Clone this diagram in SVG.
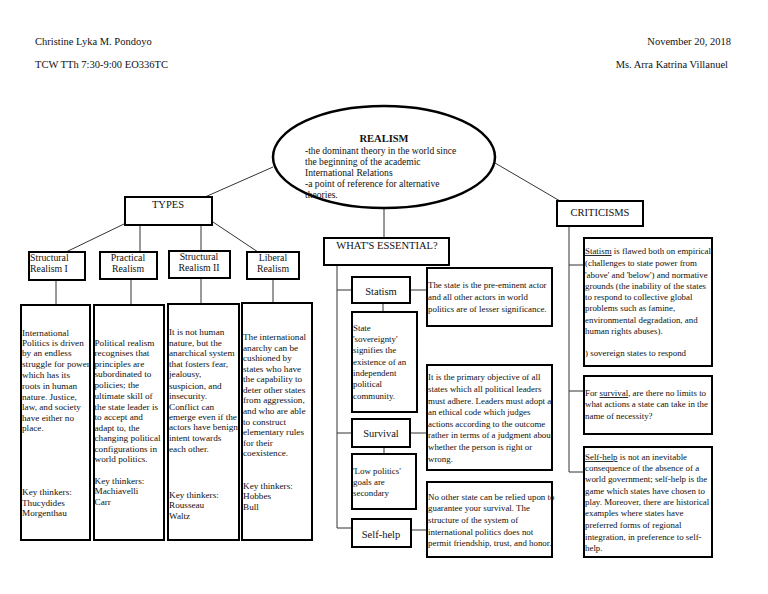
<svg xmlns="http://www.w3.org/2000/svg" width="768" height="594" viewBox="0 0 768 594">
<style>
text{font-family:"Liberation Serif","Times New Roman",serif;fill:#111}
.h{font-size:10.5px}
.t{font-size:9.2px}
.d{font-size:8.9px}
.l{font-size:10.5px}
.c{text-anchor:middle}
.box{fill:#fff;stroke:#000;stroke-width:2}
.conn line{stroke:#333;stroke-width:1}
.u{text-decoration:underline}
</style>
<rect width="768" height="594" fill="#fff"/>
<g id="header">
<text class="h" x="35" y="45">Christine Lyka M. Pondoyo</text>
<text class="h" x="35" y="68">TCW TTh 7:30-9:00 EO336TC</text>
<text class="h" x="731" y="45" text-anchor="end">November 20, 2018</text>
<text class="h" x="728" y="68" text-anchor="end">Ms. Arra Katrina Villanuel</text>
</g>
<g class="conn" id="connectors">
<line x1="273" y1="167" x2="205" y2="197"/>
<line x1="384" y1="208" x2="384" y2="238"/>
<line x1="495" y1="163" x2="560" y2="201"/>
<line x1="124" y1="224" x2="66" y2="252"/>
<line x1="140" y1="225" x2="140" y2="252"/>
<line x1="201" y1="225" x2="201" y2="251"/>
<line x1="213" y1="222" x2="258" y2="252"/>
<line x1="56" y1="280" x2="56" y2="305"/>
<line x1="131" y1="279" x2="131" y2="305"/>
<line x1="201" y1="278" x2="201" y2="304"/>
<line x1="273" y1="279" x2="273" y2="303"/>
<line x1="337" y1="265" x2="337" y2="528"/>
<line x1="337" y1="290" x2="352" y2="290"/>
<line x1="410" y1="290" x2="427" y2="290"/>
<line x1="383" y1="303" x2="383" y2="312"/>
<line x1="337" y1="433" x2="352" y2="433"/>
<line x1="410" y1="433" x2="427" y2="433"/>
<line x1="384" y1="447" x2="384" y2="454"/>
<line x1="337" y1="528" x2="352" y2="528"/>
<line x1="411" y1="530" x2="427" y2="530"/>
<line x1="569" y1="226" x2="569" y2="472"/>
<line x1="569" y1="265" x2="584" y2="265"/>
<line x1="569" y1="391" x2="584" y2="391"/>
<line x1="569" y1="472" x2="584" y2="472"/>
</g>
<g id="realism">
<ellipse cx="384" cy="157" rx="111" ry="51" fill="#fff" stroke="#000" stroke-width="2.5"/>
<text x="384" y="142" class="c" font-size="10.5" font-weight="bold">REALISM</text>
<text font-size="9.6" x="305" y="154">-the dominant theory in the world since</text>
<text font-size="9.6" x="305" y="165">the beginning of the academic</text>
<text font-size="9.6" x="305" y="176">International Relations</text>
<text font-size="9.6" x="305" y="187">-a point of reference for alternative</text>
<text font-size="9.6" x="305" y="198">theories.</text>
</g>
<g id="types">
<rect class="box" x="125" y="197" width="87" height="28"/>
<text class="l c" x="168" y="208">TYPES</text>
</g>
<g id="sr1">
<rect class="box" x="29" y="252" width="56" height="28"/>
<text font-size="9.8" x="30" y="261">Structural</text>
<text font-size="9.8" x="30" y="272">Realism I</text>
</g>
<g id="pr">
<rect class="box" x="100" y="252" width="57" height="27"/>
<text class="c" font-size="9.8" x="128" y="261">Practical</text>
<text class="c" font-size="9.8" x="128" y="272">Realism</text>
</g>
<g id="sr2">
<rect class="box" x="169" y="251" width="61" height="27"/>
<text class="c" font-size="9.8" x="199" y="260">Structural</text>
<text class="c" font-size="9.8" x="199" y="271">Realism II</text>
</g>
<g id="lr">
<rect class="box" x="247" y="252" width="52" height="27"/>
<text class="c" font-size="9.8" x="273" y="261">Liberal</text>
<text class="c" font-size="9.8" x="273" y="272">Realism</text>
</g>
<g id="desc-sr1">
<rect class="box" x="21" y="305" width="69" height="235"/>
<text class="t" x="22" y="336">International</text>
<text class="t" x="22" y="346">Politics is driven</text>
<text class="t" x="22" y="356">by an endless</text>
<text class="t" x="22" y="367">struggle for power</text>
<text class="t" x="22" y="378">which has its</text>
<text class="t" x="22" y="389">roots in human</text>
<text class="t" x="22" y="400">nature. Justice,</text>
<text class="t" x="22" y="410">law, and society</text>
<text class="t" x="22" y="421">have either no</text>
<text class="t" x="22" y="431">place.</text>
<text class="t" x="22" y="495">Key thinkers:</text>
<text class="t" x="22" y="506">Thucydides</text>
<text class="t" x="22" y="516">Morgenthau</text>
</g>
<g id="desc-pr">
<rect class="box" x="94" y="305" width="70" height="235"/>
<text class="t" x="94.5" y="346">Political realism</text>
<text class="t" x="94.5" y="356">recognises that</text>
<text class="t" x="94.5" y="367">principles are</text>
<text class="t" x="94.5" y="377">subordinated to</text>
<text class="t" x="94.5" y="388">policies; the</text>
<text class="t" x="94.5" y="399">ultimate skill of</text>
<text class="t" x="94.5" y="410">the state leader is</text>
<text class="t" x="94.5" y="420">to accept and</text>
<text class="t" x="94.5" y="431">adapt to, the</text>
<text class="t" x="94.5" y="441">changing political</text>
<text class="t" x="94.5" y="452">configurations in</text>
<text class="t" x="94.5" y="462">world politics.</text>
<text class="t" x="94.5" y="484">Key thinkers:</text>
<text class="t" x="94.5" y="494">Machiavelli</text>
<text class="t" x="94.5" y="505">Carr</text>
</g>
<g id="desc-sr2">
<rect class="box" x="168" y="304" width="71" height="236"/>
<text class="t" x="169" y="335">It is not human</text>
<text class="t" x="169" y="346">nature, but the</text>
<text class="t" x="169" y="356">anarchical system</text>
<text class="t" x="169" y="367">that fosters fear,</text>
<text class="t" x="169" y="377">jealousy,</text>
<text class="t" x="169" y="389">suspicion, and</text>
<text class="t" x="169" y="399">insecurity.</text>
<text class="t" x="169" y="410">Conflict can</text>
<text class="t" x="169" y="420">emerge even if the</text>
<text class="t" x="169" y="430">actors have benign</text>
<text class="t" x="169" y="441">intent towards</text>
<text class="t" x="169" y="452">each other.</text>
<text class="t" x="169" y="498">Key thinkers:</text>
<text class="t" x="169" y="508">Rousseau</text>
<text class="t" x="169" y="519">Waltz</text>
</g>
<g id="desc-lr">
<rect class="box" x="242" y="303" width="70" height="237"/>
<text class="t" x="243" y="340">The international</text>
<text class="t" x="243" y="351">anarchy can be</text>
<text class="t" x="243" y="361">cushioned by</text>
<text class="t" x="243" y="372">states who have</text>
<text class="t" x="243" y="382">the capability to</text>
<text class="t" x="243" y="393">deter other states</text>
<text class="t" x="243" y="403">from aggression,</text>
<text class="t" x="243" y="414">and who are able</text>
<text class="t" x="243" y="425">to construct</text>
<text class="t" x="243" y="435">elementary rules</text>
<text class="t" x="243" y="446">for their</text>
<text class="t" x="243" y="456">coexistence.</text>
<text class="t" x="243" y="489">Key thinkers:</text>
<text class="t" x="243" y="499">Hobbes</text>
<text class="t" x="243" y="510">Bull</text>
</g>
<g id="essential">
<rect class="box" x="324" y="238" width="125" height="27"/>
<text class="l c" x="387" y="249">WHAT'S ESSENTIAL?</text>
</g>
<g id="statism">
<rect class="box" x="352" y="277" width="58" height="26"/>
<text class="l c" x="381" y="295">Statism</text>
</g>
<g id="statism-desc">
<rect class="box" x="427" y="268" width="125" height="58"/>
<text class="d" x="428" y="288">The state is the pre-eminent actor</text>
<text class="d" x="428" y="300">and all other actors in world</text>
<text class="d" x="428" y="312">politics are of lesser significance.</text>
</g>
<g id="sovereignty">
<rect class="box" x="352" y="312" width="65" height="100"/>
<text class="d" x="353" y="331">State</text>
<text class="d" x="353" y="342">'sovereignty'</text>
<text class="d" x="353" y="353">signifies the</text>
<text class="d" x="353" y="365">existence of an</text>
<text class="d" x="353" y="376">independent</text>
<text class="d" x="353" y="387">political</text>
<text class="d" x="353" y="399">community.</text>
</g>
<g id="survival">
<rect class="box" x="352" y="419" width="58" height="28"/>
<text class="l c" x="381" y="437">Survival</text>
</g>
<g id="survival-desc">
<rect class="box" x="427" y="365" width="125" height="105"/>
<text class="d" x="428" y="380">It is the primary objective of all</text>
<text class="d" x="428" y="392">states which all political leaders</text>
<text class="d" x="428" y="404">must adhere. Leaders must adopt a</text>
<text class="d" x="428" y="415">an ethical code which judges</text>
<text class="d" x="428" y="427">actions according to the outcome</text>
<text class="d" x="428" y="438">rather in terms of a judgment about</text>
<text class="d" x="428" y="450">whether the person is right or</text>
<text class="d" x="428" y="462">wrong.</text>
</g>
<g id="low-politics">
<rect class="box" x="352" y="454" width="64" height="55"/>
<text class="d" x="353" y="474">'Low politics'</text>
<text class="d" x="353" y="485">goals are</text>
<text class="d" x="353" y="496">secondary</text>
</g>
<g id="self-help">
<rect class="box" x="352" y="519" width="59" height="28"/>
<text class="l c" x="381" y="538">Self-help</text>
</g>
<g id="self-help-desc">
<rect class="box" x="427" y="482" width="125" height="75"/>
<text class="d" x="428" y="500">No other state can be relied upon to</text>
<text class="d" x="428" y="511">guarantee your survival. The</text>
<text class="d" x="428" y="523">structure of  the system of</text>
<text class="d" x="428" y="535">international politics does not</text>
<text class="d" x="428" y="546">permit friendship, trust, and honor.</text>
</g>
<g id="criticisms">
<rect class="box" x="557" y="201" width="86" height="25"/>
<text class="l c" x="600" y="216">CRITICISMS</text>
</g>
<g id="crit-statism">
<rect class="box" x="584" y="238" width="128" height="128"/>
<text class="d" x="585" y="254"><tspan class="u">Statism</tspan> is flawed both on empirical</text>
<text class="d" x="585" y="266">(challenges to state power from</text>
<text class="d" x="585" y="278">'above' and 'below') and normative</text>
<text class="d" x="585" y="289">grounds (the inability of the states</text>
<text class="d" x="585" y="300">to respond to collective global</text>
<text class="d" x="585" y="311">problems such as famine,</text>
<text class="d" x="585" y="323">environmental degradation, and</text>
<text class="d" x="585" y="334">human rights abuses).</text>
<text class="d" x="585" y="356">) sovereign states to respond</text>
</g>
<g id="crit-survival">
<rect class="box" x="584" y="376" width="128" height="58"/>
<text class="d" x="585" y="396">For <tspan class="u">survival</tspan>, are there no limits to</text>
<text class="d" x="585" y="407">what actions a state can take in the</text>
<text class="d" x="585" y="419">name of necessity?</text>
</g>
<g id="crit-self-help">
<rect class="box" x="584" y="447" width="128" height="110"/>
<text class="d" x="585" y="460"><tspan class="u">Self-help</tspan> is not an inevitable</text>
<text class="d" x="585" y="471">consequence of the absence of a</text>
<text class="d" x="585" y="482">world government; self-help is the</text>
<text class="d" x="585" y="494">game which states have chosen to</text>
<text class="d" x="585" y="505">play. Moreover, there are historical</text>
<text class="d" x="585" y="516">examples where states have</text>
<text class="d" x="585" y="528">preferred forms of regional</text>
<text class="d" x="585" y="540">integration, in preference to self-</text>
<text class="d" x="585" y="551">help.</text>
</g>
</svg>
